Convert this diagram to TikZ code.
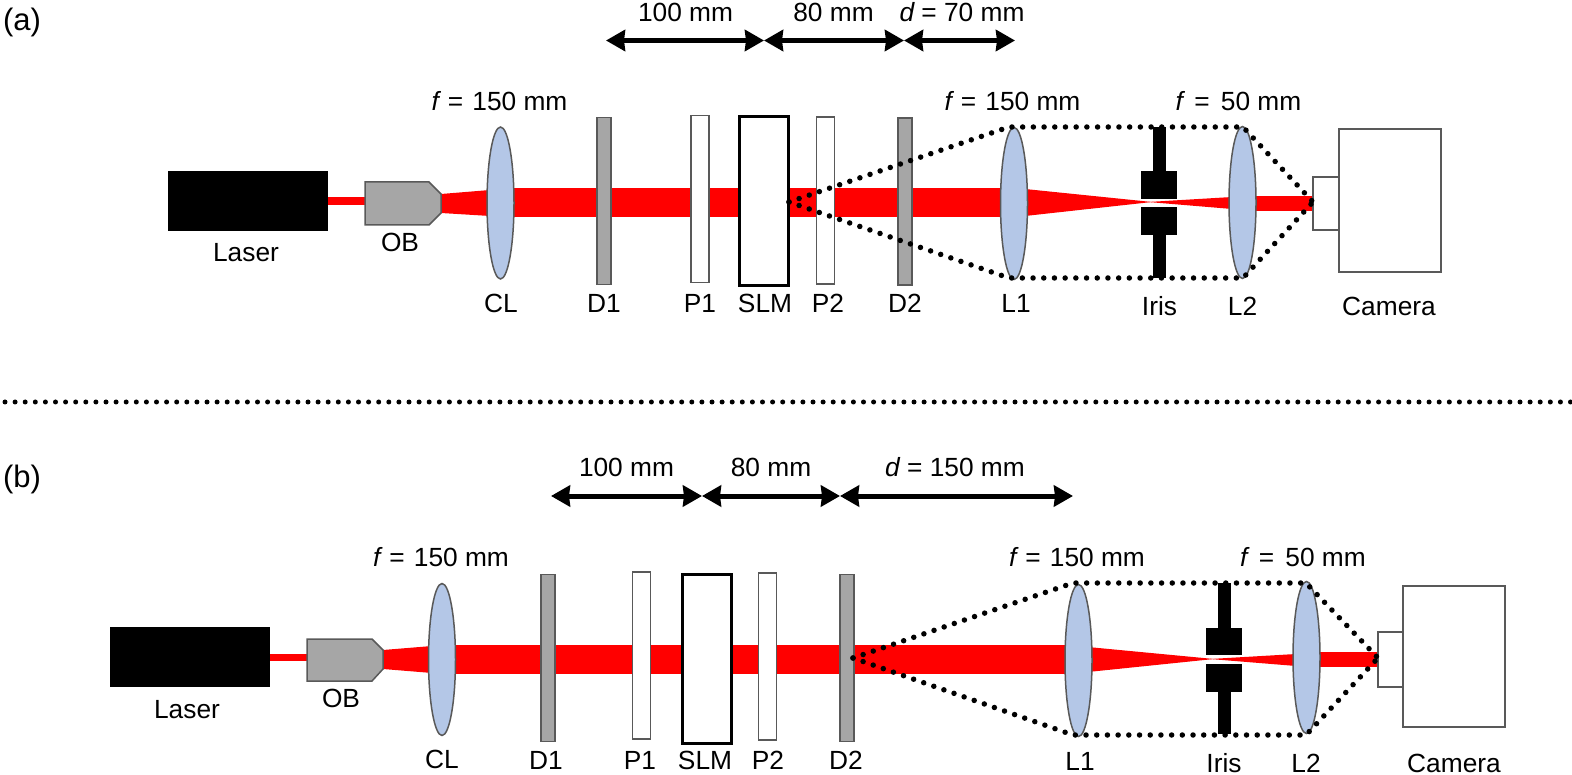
\documentclass[tikz,border=0pt]{standalone}
\usepackage{fontspec}
\setmainfont{Liberation Sans}
\usetikzlibrary{shapes,arrows.meta,calc}
\definecolor{lensblue}{HTML}{B4C7E7}
\definecolor{beamred}{HTML}{FF0000}
\definecolor{obgray}{HTML}{A6A6A6}
\definecolor{edgegray}{HTML}{595959}
\tikzstyle{lbl} = [inner sep=0pt, font=\fontsize{26.3}{30}\selectfont]
\tikzstyle{tag} = [inner sep=0pt, font=\fontsize{31}{34}\selectfont]
\tikzstyle{lens} = [ellipse, draw=edgegray, fill=lensblue, line width=1.5pt, inner sep=0pt, minimum width=27pt, minimum height=152pt]
\tikzstyle{diff} = [rectangle, draw=edgegray, fill=obgray, line width=1.5pt, inner sep=0pt, minimum width=14pt, minimum height=167pt]
\tikzstyle{pol} = [rectangle, draw=edgegray, fill=white, line width=1.5pt, inner sep=0pt, minimum width=18pt, minimum height=167pt]
\tikzstyle{slm} = [rectangle, draw=black, fill=white, line width=3pt, inner sep=0pt, minimum width=49pt, minimum height=169pt]
\tikzstyle{blk} = [rectangle, fill=black, inner sep=0pt]
\tikzstyle{stem} = [blk, minimum width=13pt, minimum height=151pt]
\tikzstyle{block} = [blk, minimum width=36pt, minimum height=28pt]
\tikzstyle{cam} = [rectangle, draw=edgegray, fill=white, line width=1.5pt, inner sep=0pt]
\tikzstyle{dots} = [line width=5.5pt, line cap=round, dash pattern=on 0pt off 10.7pt]
\tikzstyle{span} = [{Stealth[length=19pt,width=21pt,inset=1pt]}-{Stealth[length=19pt,width=21pt,inset=1pt]}, line width=5pt]
\newcommand{\ef}[1]{{\itshape f}\kern#1\ =\kern#1\ }

\begin{document}
\begin{tikzpicture}[x=1pt,y=-1pt]
  \useasboundingbox (0,0) rectangle (1572,775);

  % panel a
  \node[tag] (taga) at (22,22) {(a)};

  \node[stem] (stema) at (1159.5,202.5) {};
  \node[block] (iris1a) at (1159,185) {};
  \node[block] (iris2a) at (1159,221) {};
  \fill[white] (1141,199) rectangle (1177,207);

  \fill[beamred] (328,197) rectangle (366,205);
  \fill[beamred] (441,194) -- (490,190) -- (490,216) -- (441,213) -- cycle;
  \fill[beamred] (490,188) rectangle (1005,217);
  \fill[beamred] (1025,189) -- (1152,202) -- (1025,216) -- cycle;
  \fill[beamred] (1148,202) -- (1232,197) -- (1232,209) -- cycle;
  \fill[beamred] (1250,196) rectangle (1314,211);

  \node[blk,minimum width=160pt,minimum height=60pt] (lasera) at (248,201) {};
  \draw[edgegray,fill=obgray,line width=1.5pt] (365,182) -- (429,182) -- (441,194) -- (441,213) -- (429,225) -- (365,225) -- cycle;
  \node[lens] (cla) at (500.5,203) {};
  \node[diff] (d1a) at (604,201) {};
  \node[pol]  (p1a) at (700,199) {};
  \node[slm]  (slma) at (764,201.5) {};
  \node[pol]  (p2a) at (825.5,200.5) {};
  \node[diff] (d2a) at (905,201.5) {};
  \node[lens] (l1a) at (1014,203.5) {};
  \node[lens] (l2a) at (1242.5,202.5) {};
  \node[cam,minimum width=26pt,minimum height=53pt] (mounta) at (1326,203.5) {};
  \node[cam,minimum width=102pt,minimum height=143pt] (cama) at (1390,200.5) {};

  \coordinate (fa) at (789,202);
  \coordinate (t1a) at (1009,127);
  \coordinate (b1a) at (1009,278);
  \coordinate (t2a) at (1243,127);
  \coordinate (b2a) at (1243,278);
  \coordinate (ia) at (1313,202);
  \draw[dots] (fa) -- (t1a) -- (t2a) -- (ia);
  \draw[dots] (fa) -- (b1a) -- (b2a) -- (ia);

  \coordinate (s1a) at (606,40.5);
  \coordinate (s2a) at (764,40.5);
  \coordinate (s3a) at (904,40.5);
  \coordinate (s4a) at (1015,40.5);
  \draw[span] (s1a) -- (s2a);
  \draw[span] (s2a) -- (s3a);
  \draw[span] (s3a) -- (s4a);

  \node[lbl] (m1a) at (685.5,12.5) {100 mm};
  \node[lbl] (m2a) at (833.5,12.5) {80 mm};
  \node[lbl] (m3a) at (962,12.5) {{\itshape d} = 70 mm};
  \node[lbl] (f1a) at (499.5,101) {\ef{1.75pt}150 mm};
  \node[lbl] (f2a) at (1012.5,101) {\ef{1.75pt}150 mm};
  \node[lbl] (f3a) at (1238.5,101) {\ef{4pt}50 mm};
  \node[lbl] (n1a) at (246,253) {Laser};
  \node[lbl] (n2a) at (400,242) {OB};
  \node[lbl] (n3a) at (501,303) {CL};
  \node[lbl] (n4a) at (604,303) {D1};
  \node[lbl] (n5a) at (700,303) {P1};
  \node[lbl] (n6a) at (765,303) {SLM};
  \node[lbl] (n7a) at (828,303) {P2};
  \node[lbl] (n8a) at (905,303) {D2};
  \node[lbl] (n9a) at (1016,303) {L1};
  \node[lbl] (n10a) at (1159.5,306) {Iris};
  \node[lbl] (n11a) at (1242.5,306) {L2};
  \node[lbl] (n12a) at (1389,306) {Camera};

  % separator
  \coordinate (sepl) at (5,402);
  \coordinate (sepr) at (1572,402);
  \draw[line width=5pt, line cap=round, dash pattern=on 0pt off 10.1pt] (sepl) -- (sepr);

  % panel b
  \node[tag] (tagb) at (22,479.5) {(b)};

  \node[stem] (stemb) at (1224.5,658.5) {};
  \node[block] (iris1b) at (1224,641.5) {};
  \node[block] (iris2b) at (1224,677.5) {};
  \fill[white] (1206,655) rectangle (1242,664);

  \fill[beamred] (270,654) rectangle (308,661);
  \fill[beamred] (383,650) -- (432,646) -- (432,673) -- (383,669) -- cycle;
  \fill[beamred] (432,645) rectangle (1070,674);
  \fill[beamred] (1088,647) -- (1214,659) -- (1088,672) -- cycle;
  \fill[beamred] (1210,659) -- (1296,654) -- (1296,666) -- cycle;
  \fill[beamred] (1312,652) rectangle (1378,667);

  \node[blk,minimum width=160pt,minimum height=60pt] (laserb) at (190,657) {};
  \draw[edgegray,fill=obgray,line width=1.5pt] (307,639) -- (372,639) -- (383,650) -- (383,669) -- (372,681) -- (307,681) -- cycle;
  \node[lens] (clb) at (442,659.5) {};
  \node[diff] (d1b) at (548,658) {};
  \node[pol]  (p1b) at (641.5,655.5) {};
  \node[slm]  (slmb) at (707,658.5) {};
  \node[pol]  (p2b) at (767.5,656.5) {};
  \node[diff] (d2b) at (847,658) {};
  \node[lens] (l1b) at (1078.5,660.5) {};
  \node[lens] (l2b) at (1306.5,657.5) {};
  \node[cam,minimum width=25pt,minimum height=55pt] (mountb) at (1390.5,659.5) {};
  \node[cam,minimum width=102pt,minimum height=141pt] (camb) at (1454,656.5) {};

  \coordinate (fb) at (853,658);
  \coordinate (t1b) at (1073,583);
  \coordinate (b1b) at (1073,735);
  \coordinate (t2b) at (1306,583);
  \coordinate (b2b) at (1306,735);
  \coordinate (ib) at (1378,658);
  \draw[dots] (fb) -- (t1b) -- (t2b) -- (ib);
  \draw[dots] (fb) -- (b1b) -- (b2b) -- (ib);

  \coordinate (s1b) at (551,496);
  \coordinate (s2b) at (702,496);
  \coordinate (s3b) at (840,496);
  \coordinate (s4b) at (1073,496);
  \draw[span] (s1b) -- (s2b);
  \draw[span] (s2b) -- (s3b);
  \draw[span] (s3b) -- (s4b);

  \node[lbl] (m1b) at (626.5,467.5) {100 mm};
  \node[lbl] (m2b) at (771,467.5) {80 mm};
  \node[lbl] (m3b) at (955,467.5) {{\itshape d} = 150 mm};
  \node[lbl] (f1b) at (441,557) {\ef{1.75pt}150 mm};
  \node[lbl] (f2b) at (1077,557) {\ef{1.75pt}150 mm};
  \node[lbl] (f3b) at (1303,557) {\ef{4pt}50 mm};
  \node[lbl] (n1b) at (187,710) {Laser};
  \node[lbl] (n2b) at (341,698) {OB};
  \node[lbl] (n3b) at (442,759) {CL};
  \node[lbl] (n4b) at (546,760) {D1};
  \node[lbl] (n5b) at (640,760) {P1};
  \node[lbl] (n6b) at (705,760) {SLM};
  \node[lbl] (n7b) at (768,760) {P2};
  \node[lbl] (n8b) at (846,760) {D2};
  \node[lbl] (n9b) at (1080,761) {L1};
  \node[lbl] (n10b) at (1224,763) {Iris};
  \node[lbl] (n11b) at (1306,763) {L2};
  \node[lbl] (n12b) at (1454,763) {Camera};
\end{tikzpicture}
\end{document}
